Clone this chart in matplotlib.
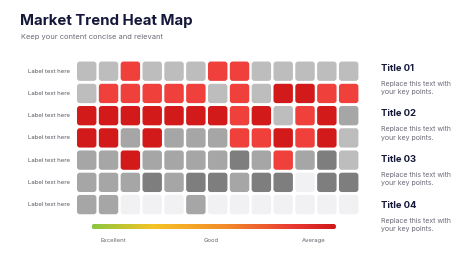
import numpy as np
import matplotlib
matplotlib.use("Agg")
import matplotlib.pyplot as plt
from matplotlib.patches import FancyBboxPatch
from matplotlib.colors import LinearSegmentedColormap

# ---------------- data ----------------
row_labels = ["Label text here"] * 7
# level codes: 0 very light, 1 light gray, 2 mid gray, 3 dark gray, 4 light red, 5 dark red
heat = [
    [1, 1, 4, 1, 1, 1, 4, 4, 1, 1, 1, 1, 1],
    [1, 4, 4, 4, 4, 4, 1, 4, 1, 5, 5, 4, 4],
    [5, 5, 5, 5, 5, 5, 5, 4, 5, 1, 4, 5, 2],
    [5, 5, 2, 5, 2, 2, 2, 4, 4, 5, 4, 5, 1],
    [2, 2, 5, 2, 2, 2, 2, 3, 2, 4, 2, 3, 1],
    [2, 2, 2, 3, 2, 3, 3, 2, 3, 3, 0, 3, 3],
    [2, 2, 0, 0, 0, 2, 0, 0, 0, 0, 0, 0, 0],
]
level_colors = ["#f1f1f3", "#bdbdbd", "#a6a6a6", "#7e7e7e", "#f0403c", "#d21a1a"]
scale_labels = ["Excellent", "Good", "Average"]
scale_positions = [0.09, 0.49, 0.91]
gradient_colors = ["#8cc63f", "#f6c325", "#f28a2a", "#ea3f33", "#d0171b"]
side_titles = ["Title 01", "Title 02", "Title 03", "Title 04"]
side_text = "Replace this text with\nyour key points."

W, H = 474, 266
fig = plt.figure(figsize=(W / 100, H / 100), dpi=100)
fig.patch.set_facecolor("white")

def px_axes(x, y, w, h):
    return fig.add_axes([x / W, 1 - (y + h) / H, w / W, h / H])

def ftext(x, y, s, **kw):
    fig.text(x / W, 1 - y / H, s, **kw)

FONT = "Inter"

# ---------------- header ----------------
ftext(20, 21, "Market Trend Heat Map", fontsize=10.8, fontweight="bold",
      color="#16183a", family=FONT, va="center", ha="left")
ftext(21, 37.5, "Keep your content concise and relevant", fontsize=5.4,
      color="#6b6b78", family=FONT, va="center", ha="left")

# ---------------- heat grid ----------------
data = np.array(heat)
nrows, ncols = data.shape
ax = px_axes(75.8, 60.1, 283.8, 155.6)
ax.set_xlim(-0.5, ncols - 0.5)
ax.set_ylim(nrows - 0.5, -0.5)
ax.axis("off")
cw, ch = 0.89, 0.87
pad = 0.13
for r in range(nrows):
    for c in range(ncols):
        p = FancyBboxPatch((c - cw / 2 + pad, r - ch / 2 + pad), cw - 2 * pad, ch - 2 * pad,
                           boxstyle=f"round,pad={pad}", linewidth=0,
                           facecolor=level_colors[data[r, c]])
        ax.add_patch(p)

for r, lab in enumerate(row_labels):
    ax.text(-0.78, r, lab, ha="right", va="center", fontsize=4.3,
            color="#55555f", family=FONT)

# ---------------- gradient scale ----------------
gx, gy, gw, gh = 91.5, 223.8, 244.5, 5.6
gax = px_axes(gx, gy, gw, gh)
cmap = LinearSegmentedColormap.from_list("scale", list(zip([0, 0.25, 0.55, 0.8, 1.0], gradient_colors)))
grad = np.linspace(0, 1, 512)[None, :]
im = gax.imshow(grad, aspect="auto", cmap=cmap, extent=[0, 1, 0, 1])
gax.set_xlim(0, 1)
gax.set_ylim(0, 1)
gax.axis("off")
clip2 = FancyBboxPatch((0, 0), 1, 1, boxstyle=f"round,pad=0,rounding_size={gh/2/gw}",
                       transform=gax.transAxes, facecolor="none", edgecolor="none",
                       mutation_aspect=gw / gh)
gax.add_patch(clip2)
im.set_clip_path(clip2)

for lab, pos in zip(scale_labels, scale_positions):
    ftext(gx + pos * gw, 240.5, lab, fontsize=4.3, color="#66666f",
          family=FONT, ha="center", va="center")

# ---------------- side notes ----------------
title_y = [68.5, 114, 159.5, 205.5]
for t, ty in zip(side_titles, title_y):
    ftext(381, ty, t, fontsize=6.8, fontweight="bold", color="#16183a",
          family=FONT, ha="left", va="center")
    ftext(381, ty + 19.5, side_text, fontsize=5.0, color="#6b6b78",
          family=FONT, ha="left", va="center", linespacing=1.45)

fig.savefig("out.png", dpi=100, facecolor="white")
